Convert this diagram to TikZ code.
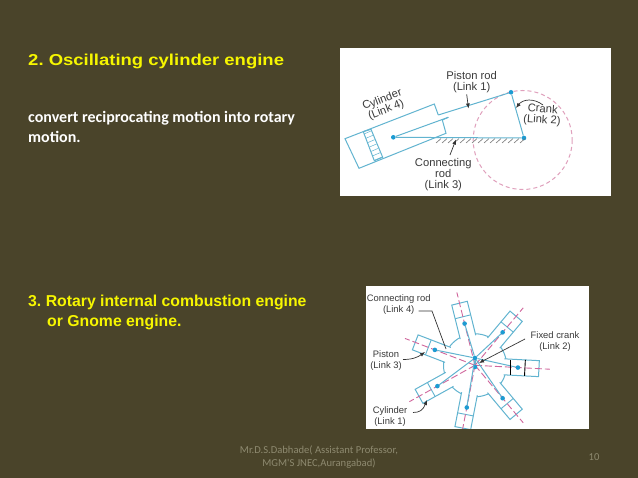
\documentclass[tikz,border=0pt]{standalone}
\usepackage{fontspec}
\setmainfont{Liberation Sans}
\newfontfamily\bodyfont{Carlito}
\usetikzlibrary{arrows.meta,positioning,calc}
\definecolor{Slide}{HTML}{4A442A}
\definecolor{TitleYellow}{HTML}{F6F600}
\definecolor{FootGrey}{HTML}{8E8A70}
\definecolor{LinkBlue}{HTML}{62B4D0}
\definecolor{PinBlue}{HTML}{1C9BD2}
\definecolor{DashPink}{HTML}{D0669C}
\definecolor{CircPink}{HTML}{E0A0BC}
\definecolor{LabelInk}{HTML}{3A3A3A}
\frenchspacing
\begin{document}
\begin{tikzpicture}[x=1pt,y=-1pt,>=Latex,every node/.style={text=LabelInk,inner sep=0pt},headline/.style={anchor=west,font=\bfseries\fontsize{15.8}{19}\selectfont,text=TitleYellow},bodyline/.style={anchor=west,font=\bodyfont\bfseries\fontsize{16}{19}\selectfont,text=white},footline/.style={font=\bodyfont\fontsize{10.6}{13}\selectfont,text=FootGrey,align=center},toplabel/.style={font=\fontsize{11.2}{11}\selectfont,align=center},lowlabel/.style={font=\fontsize{9.4}{11}\selectfont,align=center},link/.style={draw=LinkBlue,line width=1pt},pindot/.style={circle,fill=PinBlue,minimum size=4.6pt},leader/.style={draw=black!80,line width=.7pt},pointer/.style={->,draw=black!80,line width=.7pt,>={Latex[length=5pt,width=4pt]}},pinkline/.style={draw=DashPink,line width=.9pt,dash pattern=on 7pt off 3pt}]
\useasboundingbox (0,0) rectangle (638,478);
\fill[Slide] (0,0) rectangle (638,478);
\node[headline,xscale=1.17] (headA) at (28,61){2. Oscillating cylinder engine};
\node[bodyline] (bodyA) at (28,118){convert reciprocating motion into rotary};
\node[bodyline] (bodyB) at (28,137){motion.};
\node[headline] (headB) at (28,302){3. Rotary internal combustion engine};
\node[headline] (headC) at (47,322){or Gnome engine.};
\node[footline] (foot) at (319,457){Mr.D.S.Dabhade( Assistant Professor,\\MGM'S JNEC,Aurangabad)};
\node[footline] (pageno) at (594,457){10};
\fill[white] (340,48) rectangle (611,196);
\draw[draw=CircPink,line width=1pt,dash pattern=on 4pt off 3pt] (522.7,140) circle (49.5);
\draw[link] (438.3,115)--(434.3,104)--(345,138.7)--(359,168.3)--(446,133.3)--(442.3,120)--(448.3,117.3);
\draw[link] (363.3,131.7)--(371,129.3)--(382.7,157.3)--(374.3,160.7)--cycle;
\foreach \hy in {0,1,...,6}{\draw[draw=LinkBlue,line width=.5pt] ($(364,134)!{\hy/6}!(375,160)$)--($(371,131)!{\hy/6}!(382,157)$);}
\node[pindot] (pinA) at (511,92.3){};
\node[pindot] (pinB) at (524,138){};
\node[pindot] (pinC) at (393.3,137.3){};
\coordinate (rodfoot) at (438.3,115);
\coordinate (rodtail) at (448.3,117.3);
\draw[link] (rodfoot)--(pinA);
\draw[link] (pinC)--(rodtail);
\draw[link] (pinA)--(pinB);
\draw[link] (pinC)--(pinB);
\foreach \hx in {436,442,...,520}{\draw[draw=black!55,line width=.6pt] (\hx,143)--(\hx+5,138.6);}
\node[toplabel] (labrod) at (471.7,82.5){Piston rod\\(Link 1)};
\node[toplabel,rotate=21] (labcyl) at (384.3,105){Cylinder\\(Link 4)};
\node[toplabel,rotate=-4] (labcrank) at (542.3,115){Crank\\(Link 2)};
\node[toplabel] (labconn) at (443.3,175){Connecting\\rod\\(Link 3)};
\coordinate (rodmark) at (468.5,108.5);
\coordinate (crankmark) at (516,108);
\coordinate (connmark) at (456,139.5);
\draw[pointer] (labrod.south)++(-5,1)--(rodmark);
\draw[pointer] (543,105) .. controls (534,98) and (523,99) .. (crankmark);
\draw[pointer] (450,155)--(connmark);
\fill[white] (366,286) rectangle (589,429);
\begin{scope}
\clip (366,286) rectangle (589,429);
\draw[link] (475,365.3) circle (31.5);
\foreach \a/\n/\c in {-3/0/black,50/1/LinkBlue,104/2/LinkBlue,159/3/LinkBlue,209/4/LinkBlue,259/5/LinkBlue,310/6/LinkBlue}{
\begin{scope}[shift={(475,365.3)},rotate=\a]
\fill[white] (28,-8) rectangle (64,8);
\draw[link] (29,-8)--(64,-8)--(64,8)--(29,8);
\draw[draw=\c,line width=.9pt] (50,-8)--(50,8);
\draw[pinkline] (0,0)--(75,0);
\node[pindot] (armpin\n) at (43,0){};
\end{scope}}
\node[pindot] (crankpin) at (475,358){};
\node[pindot] (crankhub) at (475,367){};
\draw[link] (crankpin)--(crankhub);
\foreach \n in {0,1,...,6}{\draw[link] (crankpin)--(armpin\n);}
\end{scope}
\draw[black,line width=.9pt] (510.5,360)--(510.5,375);
\node[lowlabel] (labconnb) at (398.7,304.8){Connecting rod\\(Link 4)};
\node[lowlabel] (labpiston) at (386,360.3){Piston\\(Link 3)};
\node[lowlabel] (labfixed) at (555,341.3){Fixed crank\\(Link 2)};
\node[lowlabel] (labcylb) at (390,417){Cylinder\\(Link 1)};
\coordinate (connbmark) at (446,349);
\coordinate (pistonmark) at (425,352);
\coordinate (fixedmark) at (479,363);
\coordinate (cylbmark) at (427,400);
\draw[leader] (418.5,311)--(432,311)--(connbmark);
\draw[pointer] (403,359.5) .. controls (413,359.5) and (418,357) .. (pistonmark);
\draw[pointer] (525,339)--(fixedmark);
\draw[pointer] (413,412.5) .. controls (420,412.5) and (423,410) .. (cylbmark);
\end{tikzpicture}
\end{document}
